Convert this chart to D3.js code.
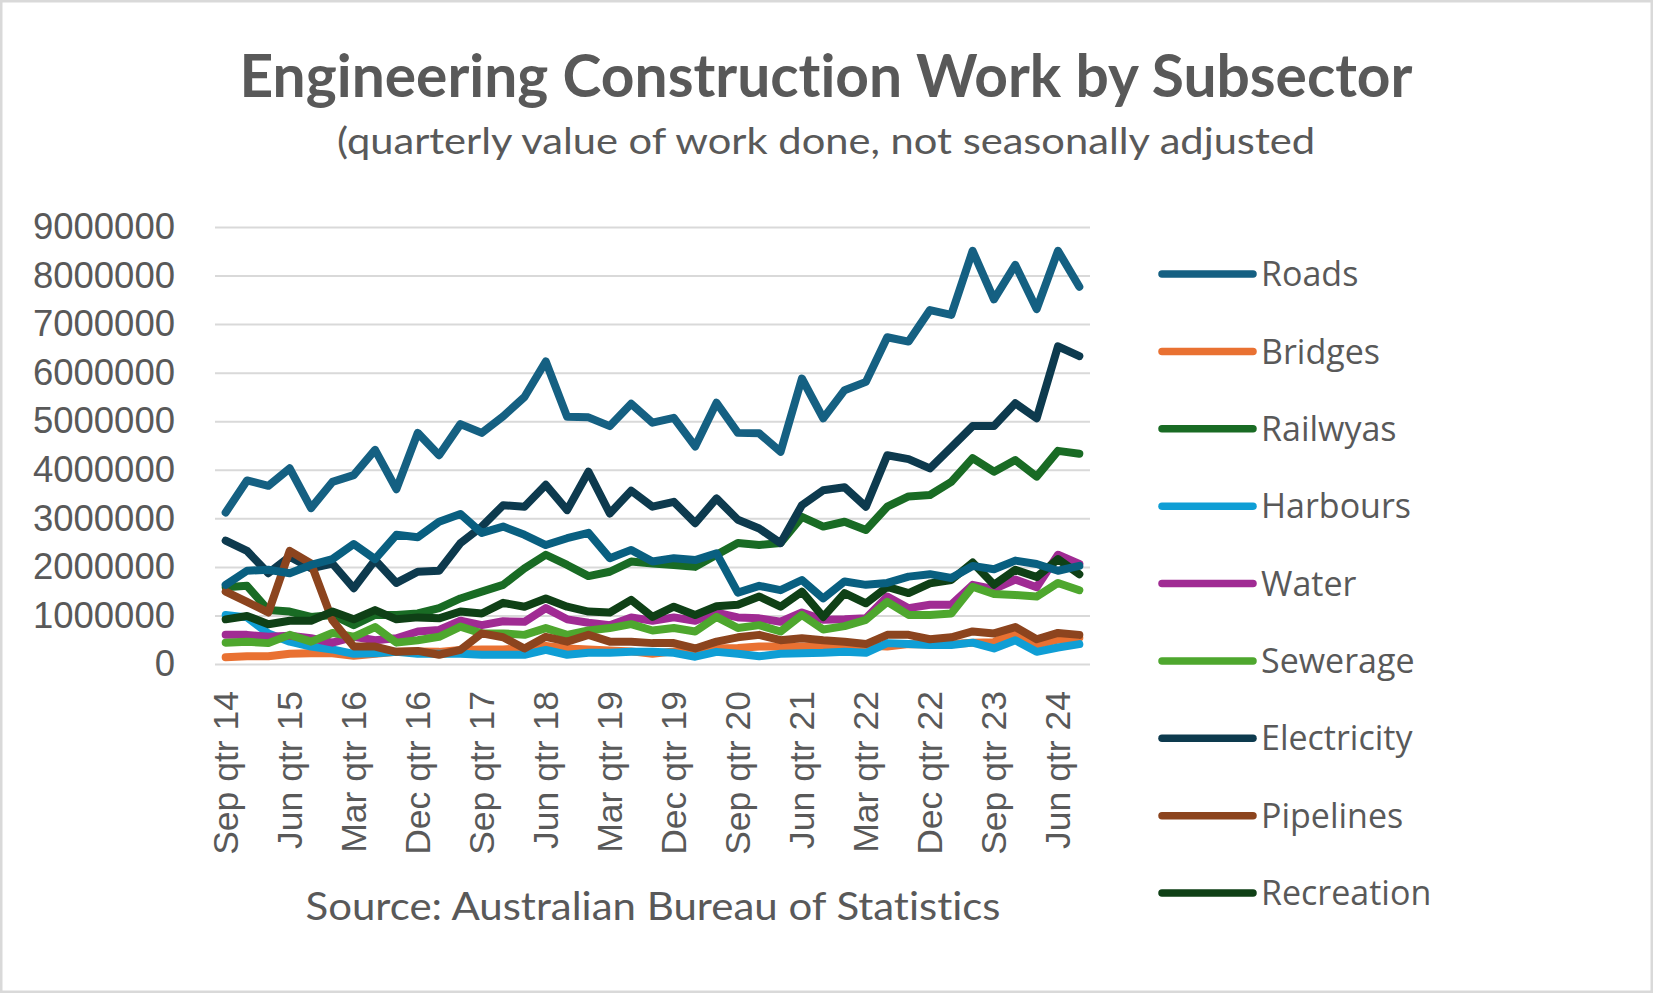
<!DOCTYPE html>
<html>
<head>
<meta charset="utf-8">
<script src="https://cdn.jsdelivr.net/npm/d3@7"></script>
<style>
  html, body { margin: 0; padding: 0; background: #ffffff; }
  svg { display: block; }
  text { font-variant-ligatures: none; font-feature-settings: "liga" 0, "clig" 0; }
</style>
</head>
<body>
<svg id="chart" width="1653" height="993"></svg>
<script>
// ---------------- DATA ----------------
const quarters = [
  "Sep qtr 14","Dec qtr 14","Mar qtr 15","Jun qtr 15","Sep qtr 15","Dec qtr 15","Mar qtr 16","Jun qtr 16",
  "Sep qtr 16","Dec qtr 16","Mar qtr 17","Jun qtr 17","Sep qtr 17","Dec qtr 17","Mar qtr 18","Jun qtr 18",
  "Sep qtr 18","Dec qtr 18","Mar qtr 19","Jun qtr 19","Sep qtr 19","Dec qtr 19","Mar qtr 20","Jun qtr 20",
  "Sep qtr 20","Dec qtr 20","Mar qtr 21","Jun qtr 21","Sep qtr 21","Dec qtr 21","Mar qtr 22","Jun qtr 22",
  "Sep qtr 22","Dec qtr 22","Mar qtr 23","Jun qtr 23","Sep qtr 23","Dec qtr 23","Mar qtr 24","Jun qtr 24",
  "Sep qtr 24"
];
const xTickLabels = ["Sep qtr 14","Jun qtr 15","Mar qtr 16","Dec qtr 16","Sep qtr 17","Jun qtr 18","Mar qtr 19",
  "Dec qtr 19","Sep qtr 20","Jun qtr 21","Mar qtr 22","Dec qtr 22","Sep qtr 23","Jun qtr 24"];
const yTickValues = [0,1000000,2000000,3000000,4000000,5000000,6000000,7000000,8000000,9000000];

// values in millions of dollars (x 1,000,000 below)
const roads = [3.12,3.78,3.67,4.03,3.21,3.75,3.89,4.41,3.60,4.76,4.30,4.94,4.76,5.10,5.50,6.23,5.09,5.08,4.90,5.36,
  4.97,5.07,4.48,5.38,4.76,4.75,4.37,5.88,5.06,5.64,5.81,6.73,6.64,7.29,7.19,8.51,7.51,8.22,7.31,8.51,7.77];
const bridges = [0.14,0.16,0.16,0.21,0.22,0.22,0.17,0.21,0.25,0.26,0.25,0.29,0.30,0.30,0.32,0.37,0.32,0.30,0.28,0.26,
  0.21,0.26,0.28,0.32,0.33,0.36,0.36,0.36,0.36,0.36,0.38,0.36,0.41,0.40,0.41,0.44,0.45,0.66,0.40,0.50,0.54];
const railways = [1.58,1.61,1.11,1.08,0.97,1.01,0.80,1.01,1.01,1.04,1.15,1.35,1.49,1.63,1.97,2.25,2.04,1.81,1.90,2.11,
  2.07,2.04,2.00,2.25,2.49,2.45,2.49,3.03,2.83,2.93,2.76,3.24,3.45,3.48,3.75,4.24,3.96,4.20,3.86,4.39,4.33];
const harbours = [1.01,0.96,0.63,0.46,0.36,0.30,0.21,0.22,0.25,0.21,0.21,0.21,0.19,0.19,0.19,0.29,0.19,0.23,0.23,0.25,
  0.25,0.23,0.15,0.25,0.21,0.16,0.21,0.22,0.23,0.25,0.23,0.43,0.41,0.39,0.39,0.44,0.32,0.49,0.25,0.34,0.41];
const water = [0.60,0.60,0.56,0.58,0.53,0.44,0.56,0.49,0.53,0.67,0.70,0.89,0.80,0.88,0.87,1.15,0.92,0.85,0.80,0.96,
  0.89,0.96,0.89,1.06,0.96,0.94,0.87,1.06,0.91,0.92,0.94,1.39,1.15,1.22,1.22,1.63,1.54,1.74,1.58,2.25,2.06];
const sewerage = [0.44,0.46,0.43,0.60,0.46,0.64,0.56,0.76,0.44,0.49,0.56,0.77,0.63,0.63,0.60,0.74,0.60,0.69,0.74,0.82,
  0.69,0.74,0.67,0.97,0.74,0.80,0.67,1.01,0.71,0.78,0.91,1.28,1.01,1.01,1.04,1.59,1.44,1.42,1.39,1.67,1.52];
const electricity = [2.54,2.33,1.87,2.21,1.97,2.07,1.56,2.14,1.67,1.90,1.92,2.49,2.83,3.27,3.24,3.69,3.17,3.96,3.10,3.57,
  3.24,3.34,2.90,3.41,2.97,2.79,2.49,3.27,3.58,3.64,3.24,4.30,4.22,4.03,4.46,4.90,4.90,5.37,5.06,6.54,6.34];
const pipelines = [1.49,1.28,1.06,2.33,2.07,0.90,0.36,0.36,0.25,0.27,0.19,0.29,0.63,0.55,0.32,0.56,0.46,0.60,0.46,0.46,
  0.43,0.43,0.32,0.46,0.55,0.60,0.49,0.53,0.49,0.46,0.41,0.60,0.60,0.51,0.55,0.67,0.63,0.76,0.51,0.64,0.60];
const recreation = [0.92,0.99,0.82,0.89,0.89,1.08,0.92,1.11,0.92,0.96,0.94,1.08,1.04,1.26,1.18,1.35,1.18,1.08,1.06,1.32,
  0.97,1.18,1.01,1.19,1.22,1.39,1.18,1.49,0.97,1.46,1.25,1.59,1.46,1.66,1.73,2.09,1.63,1.94,1.79,2.16,1.85];
// tenth series drawn in the chart but not listed in its legend
const telecommunications = [1.63,1.92,1.94,1.87,2.04,2.16,2.47,2.16,2.66,2.61,2.93,3.09,2.70,2.83,2.66,2.45,2.59,2.70,2.18,2.35,
  2.11,2.18,2.14,2.28,1.47,1.61,1.52,1.73,1.35,1.70,1.63,1.67,1.80,1.85,1.77,2.02,1.95,2.13,2.06,1.92,2.02];

const seriesNames = ["Roads","Bridges","Railwyas","Harbours","Water","Sewerage","Electricity","Pipelines","Recreation","Telecommunications"];
const seriesValues = [roads,bridges,railways,harbours,water,sewerage,electricity,pipelines,recreation,telecommunications];
const seriesColors = ["#156082","#E97132","#196B24","#0F9ED5","#A02B93","#4EA72E","#0D3A4E","#8C441E","#0F4016","#095F80"];
const legendNames = ["Roads","Bridges","Railwyas","Harbours","Water","Sewerage","Electricity","Pipelines","Recreation"];

// ---------------- CHART ----------------
const svg = d3.select("#chart");
const textColor = "#595959";
const axisFont = "'Liberation Sans', Arial, sans-serif";

// outer frame
svg.append("rect").attr("x",1.25).attr("y",1.25).attr("width",1650.5).attr("height",990.5)
  .attr("fill","#ffffff").attr("stroke","#d9d9d9").attr("stroke-width",2.5);

const plot = {left:215, right:1090, top:227, bottom:664};

const x = d3.scaleBand().domain(quarters).range([plot.left, plot.right]);
const xc = q => x(q) + x.bandwidth()/2;
const y = d3.scaleLinear().domain([0, 9000000]).range([plot.bottom, plot.top]);

// gridlines
svg.append("g").attr("class","grid")
  .attr("transform",`translate(${plot.left},0)`)
  .call(d3.axisLeft(y).tickValues(yTickValues).tickSize(-(plot.right-plot.left)).tickFormat(""))
  .call(g => g.select(".domain").remove())
  .call(g => g.selectAll("line").attr("stroke","#d9d9d9").attr("stroke-width",2));

// y axis labels
svg.append("g")
  .attr("transform",`translate(${plot.left},0)`)
  .call(d3.axisLeft(y).tickValues(yTickValues).tickSize(0).tickPadding(40).tickFormat(d3.format("d")))
  .call(g => g.select(".domain").remove())
  .call(g => g.selectAll("text").attr("fill",textColor).attr("font-size",36.5).attr("font-family",axisFont));

// x axis labels
svg.append("g")
  .attr("transform",`translate(0,${plot.bottom})`)
  .call(d3.axisBottom(x).tickValues(xTickLabels).tickSize(0))
  .call(g => g.select(".domain").remove())
  .call(g => g.selectAll("text")
      .attr("fill",textColor).attr("font-size",35.5).attr("font-family",axisFont)
      .attr("transform","rotate(-90)")
      .attr("x",-27).attr("y",0).attr("dy","0.35em")
      .attr("text-anchor","end"));

// lines
const line = d3.line()
  .x((d,i) => xc(quarters[i]))
  .y(d => y(d * 1000000));

svg.append("g").selectAll("path")
  .data(seriesValues)
  .join("path")
  .attr("d", d => line(d))
  .attr("fill","none")
  .attr("stroke",(d,i) => seriesColors[i])
  .attr("stroke-width",8)
  .attr("stroke-linejoin","round")
  .attr("stroke-linecap","round");

// titles
svg.append("text").attr("x",826).attr("y",97).attr("text-anchor","middle")
  .attr("font-family","Lato, 'Liberation Sans', sans-serif").attr("font-weight",700)
  .attr("font-size",60).attr("fill",textColor)
  .attr("textLength",1173).attr("lengthAdjust","spacingAndGlyphs")
  .text("Engineering Construction Work by Subsector");

svg.append("text").attr("x",826).attr("y",154).attr("text-anchor","middle")
  .attr("font-family","Lato, 'Liberation Sans', sans-serif")
  .attr("font-size",36).attr("fill",textColor)
  .attr("textLength",978).attr("lengthAdjust","spacingAndGlyphs")
  .text("(quarterly value of work done, not seasonally adjusted");

svg.append("text").attr("x",653).attr("y",920).attr("text-anchor","middle")
  .attr("font-family","Lato, 'Liberation Sans', sans-serif")
  .attr("font-size",39).attr("fill",textColor)
  .attr("textLength",695).attr("lengthAdjust","spacingAndGlyphs")
  .text("Source: Australian Bureau of Statistics");

// legend
const legend = svg.append("g");
const legendY = d3.scalePoint().domain(legendNames).range([274, 893]);
legendNames.forEach((name, i) => {
  const yy = legendY(name);
  legend.append("line").attr("x1",1162).attr("x2",1253).attr("y1",yy).attr("y2",yy)
    .attr("stroke",seriesColors[i]).attr("stroke-width",7.5).attr("stroke-linecap","round");
  legend.append("text").attr("x",1261).attr("y",yy).attr("dy","0.36em")
    .attr("font-family","'Open Sans', 'Liberation Sans', sans-serif")
    .attr("font-size",34).attr("fill",textColor)
    .text(name);
});
</script>
</body>
</html>
